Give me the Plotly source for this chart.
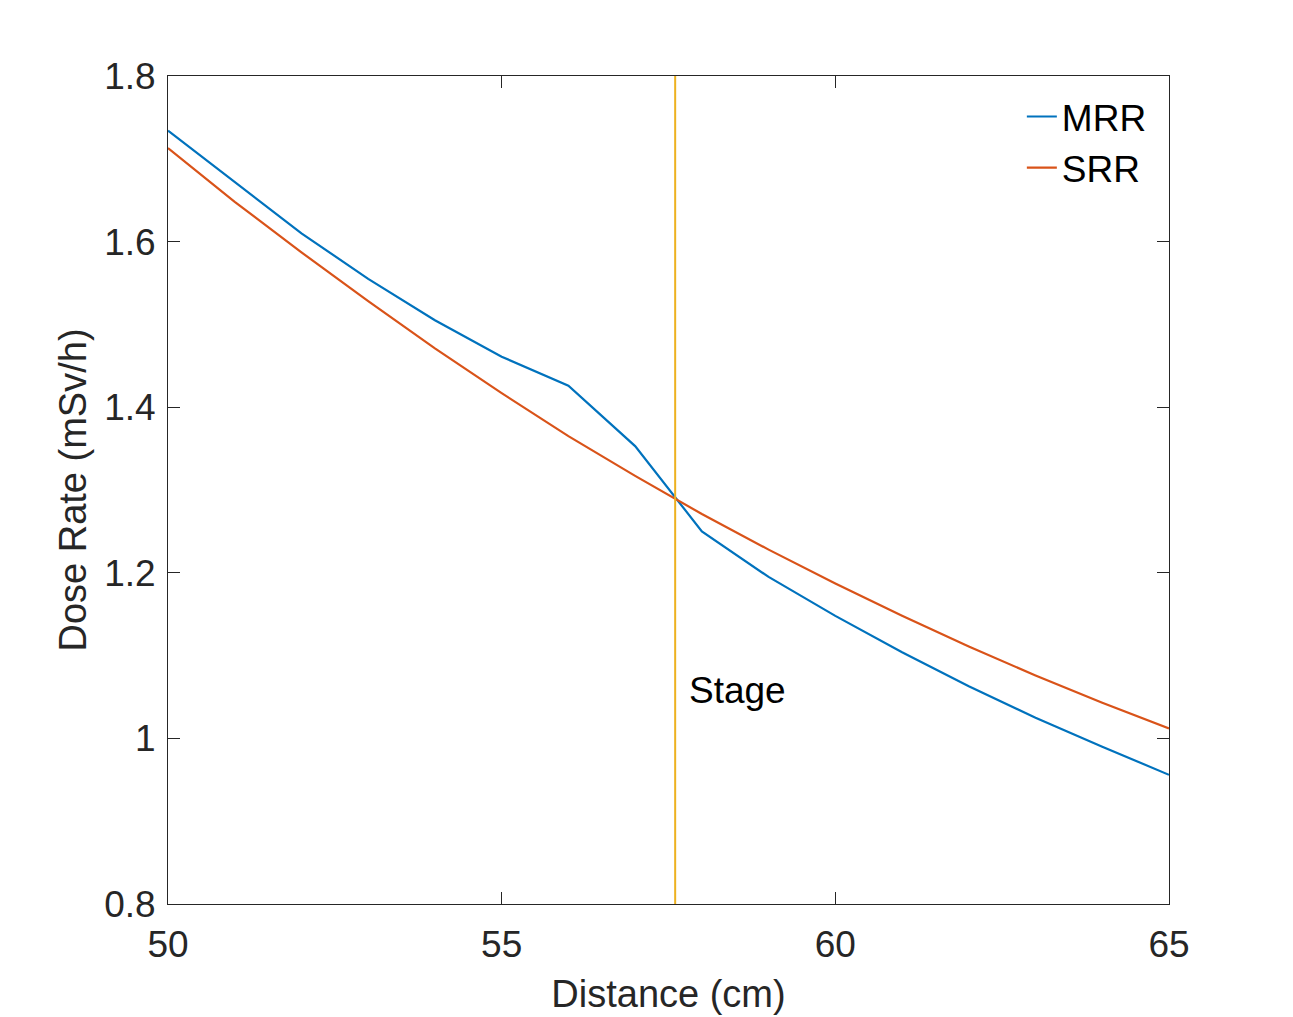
import plotly.graph_objects as go

distance = [50, 51, 52, 53, 54, 55, 56, 57, 58, 59, 60, 61, 62, 63, 64, 65]
mrr = [1.734, 1.672, 1.610, 1.555, 1.505, 1.461, 1.426, 1.353, 1.250, 1.195, 1.148, 1.104, 1.063, 1.025, 0.990, 0.956]
srr = [1.713, 1.648, 1.587, 1.528, 1.471, 1.417, 1.365, 1.317, 1.271, 1.228, 1.187, 1.148, 1.111, 1.076, 1.043, 1.012]
stage_x = [57.6, 57.6]
stage_y = [0.8, 1.8]
stage_label = "Stage"
stage_label_pos = (57.78, 1.058)
x_ticks = [50, 55, 60, 65]
y_ticks = [0.8, 1.0, 1.2, 1.4, 1.6, 1.8]
y_ticktext = ["0.8", "1", "1.2", "1.4", "1.6", "1.8"]

FONT = "Liberation Sans, Arial, sans-serif"

fig = go.Figure()
fig.add_trace(go.Scatter(x=distance, y=mrr, mode="lines", name="MRR",
                         line=dict(color="#0072BD", width=2.2)))
fig.add_trace(go.Scatter(x=distance, y=srr, mode="lines", name="SRR",
                         line=dict(color="#D95319", width=2.2)))
fig.add_trace(go.Scatter(x=stage_x, y=stage_y, mode="lines", showlegend=False,
                         line=dict(color="#EDB120", width=2), hoverinfo="skip"))

fig.add_annotation(x=stage_label_pos[0], y=stage_label_pos[1], text=stage_label,
                   showarrow=False, xanchor="left", yanchor="middle",
                   font=dict(family=FONT, size=37, color="black"))

axis_common = dict(showline=True, linecolor="#262626", linewidth=1, mirror="ticks",
                   ticks="inside", ticklen=12, tickcolor="#262626", tickwidth=1,
                   showgrid=False, zeroline=False, automargin=False,
                   tickfont=dict(family=FONT, size=37, color="#262626"))

fig.update_xaxes(range=[50, 65], tickvals=x_ticks, ticklabelstandoff=8,
                 title=dict(text="Distance (cm)", font=dict(family=FONT, size=38, color="#262626"), standoff=15),
                 **axis_common)
fig.update_yaxes(range=[0.8, 1.8], tickvals=y_ticks, ticktext=y_ticktext, ticklabelstandoff=4,
                 title=dict(text="Dose Rate (mSv/h)", font=dict(family=FONT, size=38, color="#262626"), standoff=5),
                 **axis_common)

fig.update_layout(
    width=1293, height=1017,
    margin=dict(l=168, r=124, t=76, b=113),
    plot_bgcolor="white", paper_bgcolor="white",
    legend=dict(x=0.853, y=0.988, xanchor="left", yanchor="top",
                bgcolor="rgba(255,255,255,0)", borderwidth=0,
                font=dict(family=FONT, size=37, color="black"),
                itemwidth=30, tracegroupgap=0),
    showlegend=True,
)

fig.write_html("out.html")
